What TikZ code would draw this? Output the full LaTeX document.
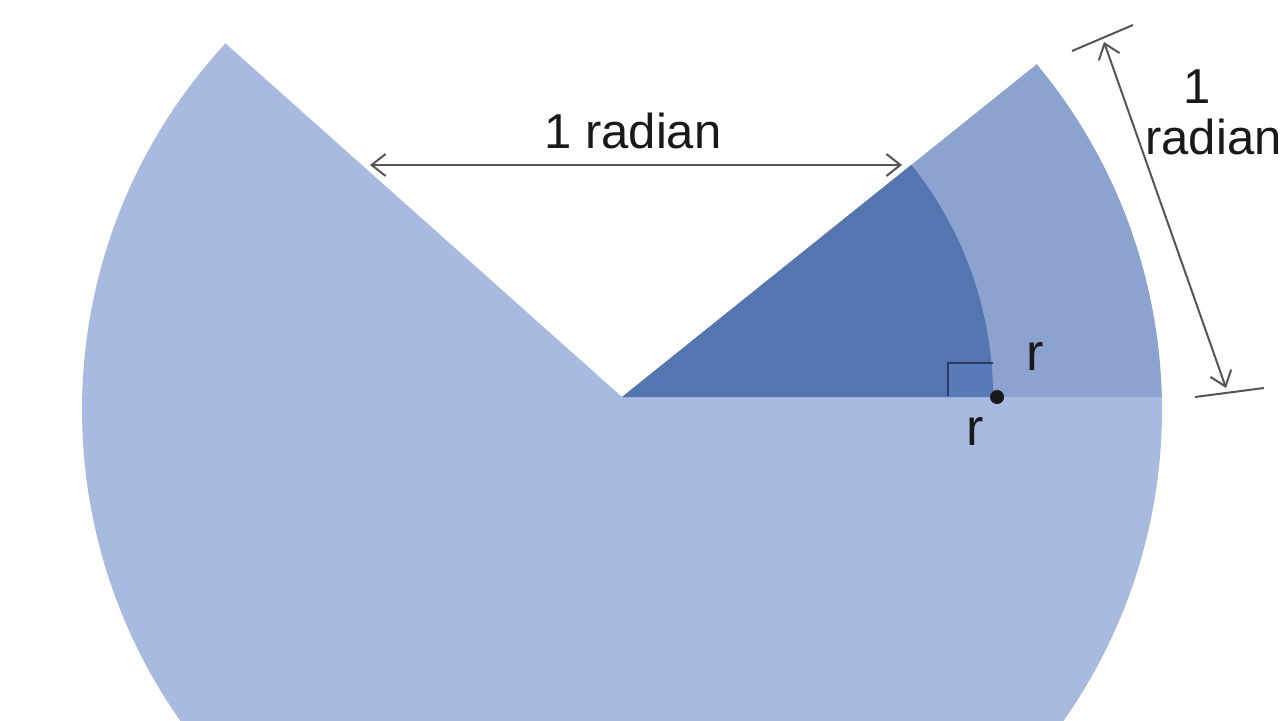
\documentclass[tikz,border=0pt]{standalone}
\usepackage{fontspec}
\setmainfont{Liberation Sans}
\usetikzlibrary{arrows.meta,calc}
\definecolor{lightb}{HTML}{A8BADF}
\definecolor{midb}{HTML}{8BA3CE}
\definecolor{darkb}{HTML}{5475B0}
\definecolor{sqfill}{HTML}{5A7BBA}
\definecolor{sqline}{HTML}{2A3A66}
\definecolor{dimgray}{HTML}{555555}
\tikzset{
  dimarrow/.style={draw=dimgray, line width=1pt, {Straight Barb[length=7pt,width=11pt]}-{Straight Barb[length=7pt,width=11pt]}},
  dimtick/.style={draw=dimgray, line width=1pt},
  lbl/.style={font=\fontsize{24.5pt}{26pt}\selectfont, text=black!90, inner sep=0pt},
  rlbl/.style={font=\fontsize{26pt}{28pt}\selectfont, text=black!90, inner sep=0pt}
}
\begin{document}
\begin{tikzpicture}[x=0.5pt,y=0.5pt]
\useasboundingbox (0,0) rectangle (1280,720);
\clip (0,0) rectangle (1280,720);
\fill[white] (0,0) rectangle (1280,720);
% vertex
\coordinate (V) at (622,323);
\coordinate (L) at (225.5,676.6);
\coordinate (R) at (1036.8,655.8);
% big light sector (circle centre (622,310), r=540)
\fill[lightb] (V) -- (L) arc[start angle=137.25, end angle=361.38, radius=540] -- cycle;
% medium sector
\fill[midb] (V) -- (1161.8,323) arc[start angle=1.38, end angle=39.82, radius=540] -- (R) -- cycle;
% dark wedge: its upper edge lies on V--R
\fill[darkb] (V) -- (993,323) arc[start angle=0, end angle=38.74, radius=371] -- ($(V)!0.5!(R)$) -- cycle;
% right angle mark
\fill[sqfill] (948,323) rectangle (992,357);
\draw[sqline, line width=1.2pt] (948,324) -- (948,357) -- (993,357);
% dot
\fill[black!90] (997,323) circle[radius=7];
% r labels
\node[rlbl] (r1) at (1035,363.5) {r};
\node[rlbl] (r2) at (975,288) {r};
% horizontal dimension
\coordinate (hA) at (370,555);
\coordinate (hB) at (902,555);
\draw[dimarrow] (hA) -- (hB);
\node[lbl, anchor=base] (t1) at (633,572) {1 radian};
% slanted dimension
\coordinate (sA) at (1104,678);
\coordinate (sB) at (1226,332);
\draw[dimarrow] (sA) -- (sB);
\coordinate (tk1a) at (1072,669);
\coordinate (tk1b) at (1133,695);
\coordinate (tk2a) at (1195,323);
\coordinate (tk2b) at (1264,332);
\draw[dimtick] (tk1a) -- (tk1b);
\draw[dimtick] (tk2a) -- (tk2b);
\node[lbl, anchor=base] (t2) at (1197,617) {1};
\node[lbl, anchor=base west] (t3) at (1145,566) {radian};
\end{tikzpicture}
\end{document}
